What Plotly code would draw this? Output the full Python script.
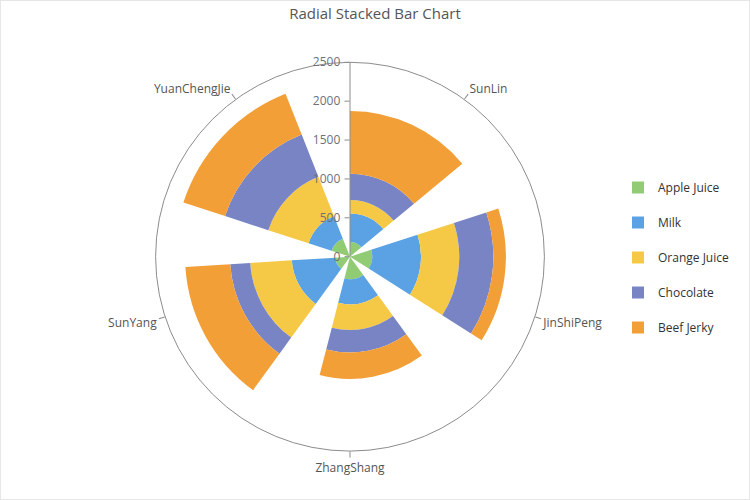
import plotly.graph_objects as go

categories = ["SunLin", "JinShiPeng", "ZhangShang", "SunYang", "YuanChengJie"]
series_names = ["Apple Juice", "Milk", "Orange Juice", "Chocolate", "Beef Jerky"]
apple_juice = [190, 285, 290, 190, 250]
milk = [367, 628, 322, 560, 310]
orange_juice = [172, 492, 330, 536, 545]
chocolate = [339, 438, 290, 257, 584]
beef_jerky = [806, 162, 340, 578, 564]
radial_ticks = [0, 500, 1000, 1500, 2000, 2500]

series_values = [apple_juice, milk, orange_juice, chocolate, beef_jerky]
colors = ["#91CC75", "#5AA2E4", "#F5C845", "#7884C4", "#F39F37"]

band = 360 / len(categories)
bar_w = band * 0.7
theta_bars = [i * band + bar_w / 2 for i in range(len(categories))]
theta_ticks = [i * band + band / 2 for i in range(len(categories))]

fig = go.Figure()
for name, vals, col in zip(series_names, series_values, colors):
    fig.add_trace(go.Barpolar(
        r=vals, theta=theta_bars, width=[bar_w] * len(categories),
        name=name, marker=dict(color=col, line=dict(width=0)),
        legendgroup=name,
        customdata=categories,
        hovertemplate="%{customdata}<br>" + name + ": %{r}<extra></extra>",
    ))

W, H = 750, 500
cx, cy, R = 350, 256.7, 194.4
fig.update_layout(
    width=W, height=H,
    margin=dict(l=0, r=0, t=0, b=0),
    paper_bgcolor="white",
    font=dict(family="Open Sans, Noto Sans, sans-serif", size=12, color="#6E7079"),
    title=dict(text="Radial Stacked Bar Chart", x=0.5, xanchor="center",
               y=1 - 14 / H, yanchor="middle",
               font=dict(size=15, color="#555555")),
    polar=dict(
        domain=dict(x=[(cx - R) / W, (cx + R) / W],
                    y=[(H - cy - R) / H, (H - cy + R) / H]),
        bgcolor="white",
        barmode="stack",
        bargap=0,
        angularaxis=dict(
            rotation=90, direction="clockwise",
            tickmode="array", tickvals=theta_ticks, ticktext=categories,
            showgrid=False, showline=True, linecolor="#8C8C8C", linewidth=1,
            ticks="outside", ticklen=6, tickcolor="#8C8C8C",
            tickfont=dict(size=12, color="#555555"),
        ),
        radialaxis=dict(
            range=[0, 2500], angle=90, tickangle=90,
            tickmode="array", tickvals=radial_ticks,
            showgrid=False, showline=True, linecolor="#8C8C8C", linewidth=1,
            ticks="outside", ticklen=5, tickcolor="#8C8C8C",
            side="counterclockwise",
            tickfont=dict(size=12, color="#6E7079"),
        ),
    ),
    legend=dict(
        x=618 / W, xanchor="left", y=1 - 173 / H, yanchor="top",
        font=dict(size=12, color="#333333"),
        tracegroupgap=16, traceorder="grouped",
        bgcolor="rgba(0,0,0,0)",
    ),
    shapes=[dict(type="rect", xref="paper", yref="paper", x0=0, y0=0, x1=1, y1=1,
                 line=dict(color="#E6E6E6", width=2), fillcolor="rgba(0,0,0,0)")],
)

fig.write_html("out.html",
               config={"displayModeBar": False},
               post_script="document.body.style.margin='0';document.body.style.overflow='hidden';")
